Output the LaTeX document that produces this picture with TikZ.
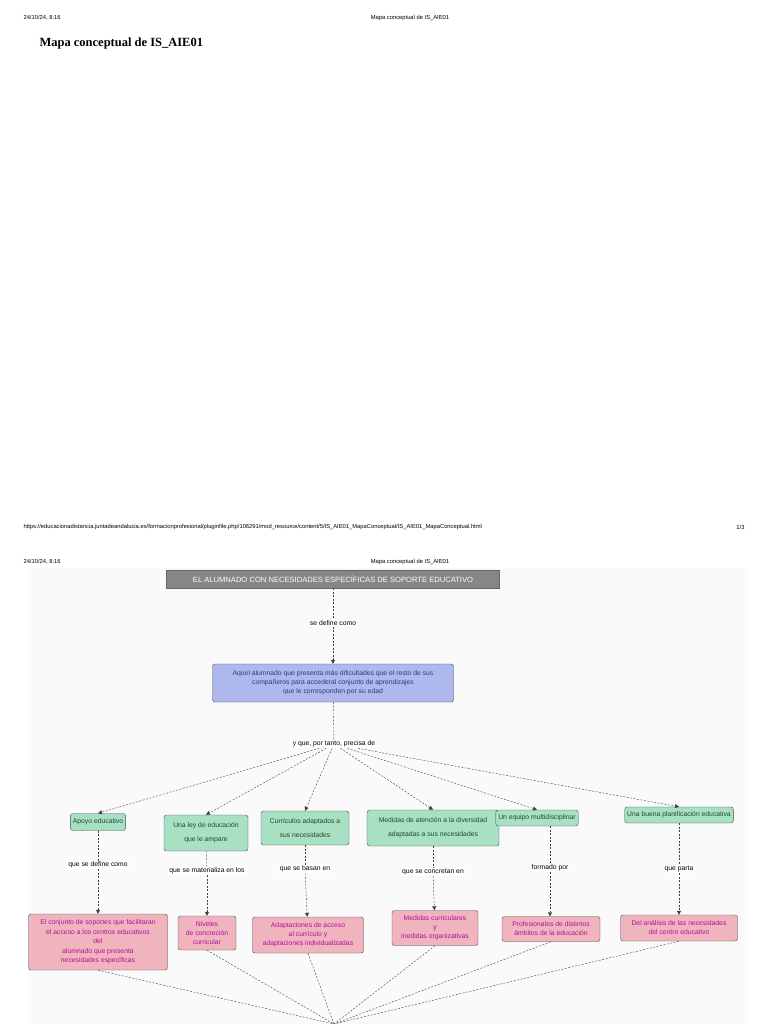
\documentclass[tikz,border=0pt]{standalone}
\usepackage{fontspec}
\setmainfont{Liberation Sans}
\newfontfamily\serifb{Liberation Serif}
\usetikzlibrary{arrows.meta}
\definecolor{grn}{HTML}{A8E0C4}
\definecolor{pnk}{HTML}{F0B4BE}
\definecolor{blu}{HTML}{AEB8EC}
\definecolor{mag}{HTML}{B0109A}
\definecolor{dblu}{HTML}{2A3A8A}
\definecolor{dgrn}{HTML}{1E4A30}
\tikzset{
 box/.style={draw=black!70,rounded corners=2.5pt,font=\fontsize{6.8}{9}\selectfont,align=center,inner sep=2.5pt},
 gbox/.style={box,fill=grn,text=dgrn},
 pbox/.style={box,fill=pnk,text=mag},
 lbl/.style={font=\fontsize{6.8}{8}\selectfont,fill=white,inner sep=1pt},
 con/.style={draw=black!75,dashed,dash pattern=on 2pt off 1.5pt,thin},
 arr/.style={con,-{Triangle[length=4pt,width=4pt]}},
 small/.style={font=\fontsize{5.8}{6}\selectfont}
}
\begin{document}
\begin{tikzpicture}[x=1pt,y=-1pt]
\useasboundingbox (0,0) rectangle (768,1024);
\fill[white] (0,0) rectangle (768,1024);
\node[small,anchor=west] (d1) at (20,18) {24/10/24, 8:16};
\node[small] (h1) at (410,18) {Mapa conceptual de IS\_AIE01};
\node[anchor=west,font=\serifb\bfseries\fontsize{12.5}{14}\selectfont] (ttl) at (36,43) {Mapa conceptual de IS\_AIE01};
\node[small,anchor=west] (url) at (20,527) {https://educacionadistancia.juntadeandalucia.es/formacionprofesional/pluginfile.php/106291/mod\_resource/content/5/IS\_AIE01\_MapaConceptual/IS\_AIE01\_MapaConceptual.html};
\node[small,anchor=east] (pg) at (748,527) {1/3};
\node[small,anchor=west] (d2) at (20,562) {24/10/24, 8:16};
\node[small] (h2) at (410,562) {Mapa conceptual de IS\_AIE01};
\fill[black!2] (28,568) rectangle (748,1024);

\node[box,fill=gray!95,text=white,draw=black!60,rounded corners=0pt,minimum width=333pt,minimum height=18pt,font=\fontsize{7.6}{9}\selectfont] (top) at (333,579) {EL ALUMNADO CON NECESIDADES ESPECÍFICAS DE SOPORTE EDUCATIVO};
\node[lbl] (l0) at (333,623) {se define como};
\node[box,fill=blu,text=dblu,minimum width=241pt,minimum height=38pt] (def) at (333,683) {Aquel alumnado que presenta más dificultades que el resto de sus\\compañeros para accederal conjunto de aprendizajes\\que le corresponden por su edad};
\draw[con] (top) -- (l0);
\draw[arr] (l0) -- (def);
\node[lbl] (l1) at (334,744) {y que, por tanto, precisa de};
\draw[con] (def) -- (l1);

\node[gbox,minimum height=17pt] (g1) at (98,822) {Apoyo educativo};
\node[gbox,minimum width=84pt,minimum height=36pt,font=\fontsize{6.8}{14}\selectfont] (g2) at (206,833) {Una ley de educación\\que le ampare};
\node[gbox,minimum width=88pt,minimum height=34pt,font=\fontsize{6.8}{14}\selectfont] (g3) at (305,828) {Currículos adaptados a\\sus necesidades};
\node[gbox,minimum width=132pt,minimum height=36pt,font=\fontsize{6.8}{14}\selectfont] (g4) at (433,828) {Medidas de atención a la diversidad\\adaptadas a sus necesidades};
\node[gbox,minimum height=16pt] (g5) at (537,818) {Un equipo multidisciplinar};
\node[gbox,minimum height=16pt] (g6) at (679,815) {Una buena planificación educativa};
\foreach \g in {g1,g2,g3,g4,g5,g6} \draw[arr] (l1) -- (\g.north);

\node[lbl] (m1) at (98,865) {que se define como};
\node[lbl] (m2) at (207,871) {que se materializa en los};
\node[lbl] (m3) at (305,869) {que se basan en};
\node[lbl] (m4) at (433,872) {que se concretan en};
\node[lbl] (m5) at (550,868) {formado por};
\node[lbl] (m6) at (679,869) {que parta};

\node[pbox,minimum width=139pt,minimum height=56pt,font=\fontsize{6.8}{9.6}\selectfont] (p1) at (98,942) {El conjunto de soportes que facilitaran\\el acceso a los centros educativos\\del\\alumnado que presenta\\necesidades específicas};
\node[pbox,minimum width=58pt,minimum height=34pt] (p2) at (207,933) {Niveles\\de concreción\\curricular};
\node[pbox,minimum width=111pt,minimum height=36pt] (p3) at (308,935) {Adaptaciones de acceso\\al currículo y\\adaptaciones individualizadas};
\node[pbox,minimum width=86pt,minimum height=35pt] (p4) at (435,928) {Medidas curriculares\\y\\medidas organizativas};
\node[pbox,minimum width=98pt,minimum height=25pt] (p5) at (551,929) {Profesionales de distintos\\ámbitos de la educación};
\node[pbox,minimum width=117pt,minimum height=26pt] (p6) at (679,928) {Del análisis de las necesidades\\del centro educativo};

\draw[con] (g1) -- (m1); \draw[arr] (m1) -- (p1);
\draw[con] (g2) -- (m2); \draw[arr] (m2) -- (p2);
\draw[con] (g3.south) -- (m3); \draw[arr] (m3) -- (p3);
\draw[con] (g4) -- (m4); \draw[arr] (m4) -- (p4);
\draw[con] (m5|-g5.south) -- (m5); \draw[arr] (m5) -- (m5|-p5.north);
\draw[con] (g6) -- (m6); \draw[arr] (m6) -- (p6);

\coordinate (end) at (334,1024);
\foreach \p in {p1,p2,p3,p4,p5,p6} \draw[con] (\p.south) -- (end);
\end{tikzpicture}
\end{document}
